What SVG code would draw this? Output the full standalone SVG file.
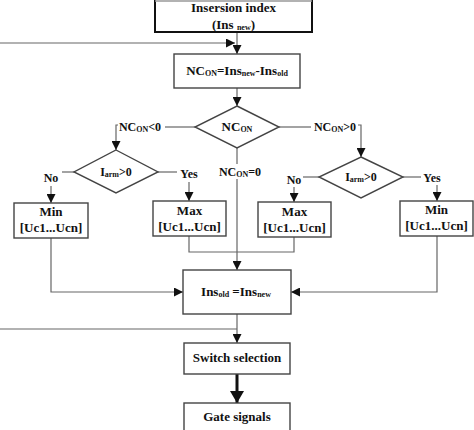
<svg xmlns="http://www.w3.org/2000/svg" width="474" height="430" viewBox="0 0 474 430">
<style>
.box{fill:#fff;stroke:#444;stroke-width:1.4}
.t{font-family:"Liberation Serif","Times New Roman",serif;font-weight:bold;font-size:13px;fill:#111;text-anchor:middle}
.s{font-size:8px}
.lb{font-size:12px}
.c{fill:none;stroke:#666;stroke-width:1.2}
</style>
<defs>
<marker id="ah" markerUnits="userSpaceOnUse" markerWidth="9" markerHeight="9" viewBox="0 0 9 9" refX="9" refY="4.5" orient="auto">
<path d="M0,0 L9,4.5 L0,9 Z" fill="#111"/>
</marker>
<marker id="big" markerUnits="userSpaceOnUse" markerWidth="12" markerHeight="14" viewBox="0 0 12 14" refX="12" refY="7" orient="auto">
<path d="M0,0 L12,7 L0,14 Z" fill="#111"/>
</marker>
</defs>
<rect width="474" height="430" fill="#fff"/>
<g id="connectors">
<path class="c" d="M0,43 H235" marker-end="url(#ah)"/>
<path class="c" d="M237,32 V54" marker-end="url(#ah)"/>
<path class="c" d="M237,88 V106" marker-end="url(#ah)"/>
<path class="c" d="M195,127 H165"/>
<path class="c" d="M118,125 H116 V150" marker-end="url(#ah)"/>
<path class="c" d="M279,127 H311"/>
<path class="c" d="M358,125 H361 V157" marker-end="url(#ah)"/>
<path class="c" d="M237,148 V164"/>
<path class="c" d="M237,179 V270" marker-end="url(#ah)"/>
<path class="c" d="M74,172 H62"/>
<path class="c" d="M51,186 V203" marker-end="url(#ah)"/>
<path class="c" d="M158,172 H177"/>
<path class="c" d="M189,182 V201" marker-end="url(#ah)"/>
<path class="c" d="M319,177 H303"/>
<path class="c" d="M294,187 V202" marker-end="url(#ah)"/>
<path class="c" d="M403,177 H421"/>
<path class="c" d="M437,185 V201" marker-end="url(#ah)"/>
<path class="c" d="M189,236 V252 H237"/>
<path class="c" d="M294,237 V252 H237"/>
<path class="c" d="M51,238 V292 H183" marker-end="url(#ah)"/>
<path class="c" d="M437,236 V292 H291" marker-end="url(#ah)"/>
<path class="c" d="M237,314 V343" marker-end="url(#ah)"/>
<path class="c" d="M0,329 H237"/>
<path d="M237,374 V403" fill="none" stroke="#111" stroke-width="3" marker-end="url(#big)"/>
<text class="t lb" x="140" y="131">NC<tspan class="s" dy="1">ON</tspan><tspan dy="-1">&lt;0</tspan></text>
<text class="t lb" x="335" y="131">NC<tspan class="s" dy="1">ON</tspan><tspan dy="-1">&gt;0</tspan></text>
<text class="t lb" x="240" y="176">NC<tspan class="s" dy="1">ON</tspan><tspan dy="-1">=0</tspan></text>
<text class="t lb" x="51" y="182">No</text>
<text class="t lb" x="189" y="178">Yes</text>
<text class="t lb" x="294" y="184">No</text>
<text class="t lb" x="432" y="182">Yes</text>
</g>
<g id="n-insersion">
<rect x="155" y="-4" width="157" height="36" fill="#fff" stroke="#111" stroke-width="2"/>
<line x1="155" y1="1" x2="312" y2="1" stroke="#999" stroke-width="1.5"/>
<text class="t" x="233.5" y="12">Insersion index</text>
<text class="t" x="233.5" y="29">(Ins <tspan class="s" dy="1">new</tspan><tspan dy="-1">)</tspan></text>
</g>
<g id="n-ncon-calc">
<rect class="box" x="174" y="54" width="126" height="34"/>
<text class="t" x="237" y="75">NC<tspan class="s" dy="1">ON</tspan><tspan dy="-1">=Ins</tspan><tspan class="s" dy="1">new</tspan><tspan dy="-1">-Ins</tspan><tspan class="s" dy="1">old</tspan></text>
</g>
<g id="n-ncon">
<path class="box" d="M237,106 L279,127 L237,148 L195,127 Z"/>
<text class="t" x="237" y="131">NC<tspan class="s" dy="1">ON</tspan></text>
</g>
<g id="n-iarm-left">
<path class="box" d="M116,150 L158,172 L116,193 L74,172 Z"/>
<text class="t lb" x="116" y="176">I<tspan class="s" dy="1">arm</tspan><tspan dy="-1">&gt;0</tspan></text>
</g>
<g id="n-iarm-right">
<path class="box" d="M361,157 L403,177 L361,198 L319,177 Z"/>
<text class="t lb" x="361" y="181">I<tspan class="s" dy="1">arm</tspan><tspan dy="-1">&gt;0</tspan></text>
</g>
<g id="n-min-left">
<rect class="box" x="14" y="203" width="74" height="35"/>
<text class="t" x="51" y="216">Min</text>
<text class="t" x="51" y="232">[Uc1...Ucn]</text>
</g>
<g id="n-max-left">
<rect class="box" x="153" y="201" width="73" height="35"/>
<text class="t" x="189.5" y="215">Max</text>
<text class="t" x="189.5" y="231">[Uc1...Ucn]</text>
</g>
<g id="n-max-right">
<rect class="box" x="258" y="202" width="73" height="35"/>
<text class="t" x="294.5" y="216">Max</text>
<text class="t" x="294.5" y="232">[Uc1...Ucn]</text>
</g>
<g id="n-min-right">
<rect class="box" x="400" y="201" width="73" height="35"/>
<text class="t" x="436.5" y="214">Min</text>
<text class="t" x="436.5" y="230">[Uc1...Ucn]</text>
</g>
<g id="n-insold">
<rect class="box" x="183" y="270" width="108" height="44"/>
<text class="t" x="236" y="296">Ins<tspan class="s" dy="1">old</tspan><tspan dy="-1"> =Ins</tspan><tspan class="s" dy="1">new</tspan></text>
</g>
<g id="n-switch">
<rect class="box" x="184" y="343" width="106" height="31"/>
<text class="t" x="237" y="362">Switch selection</text>
</g>
<g id="n-gate">
<rect class="box" x="184" y="403" width="106" height="32"/>
<text class="t" x="237" y="421">Gate signals</text>
</g>
</svg>
